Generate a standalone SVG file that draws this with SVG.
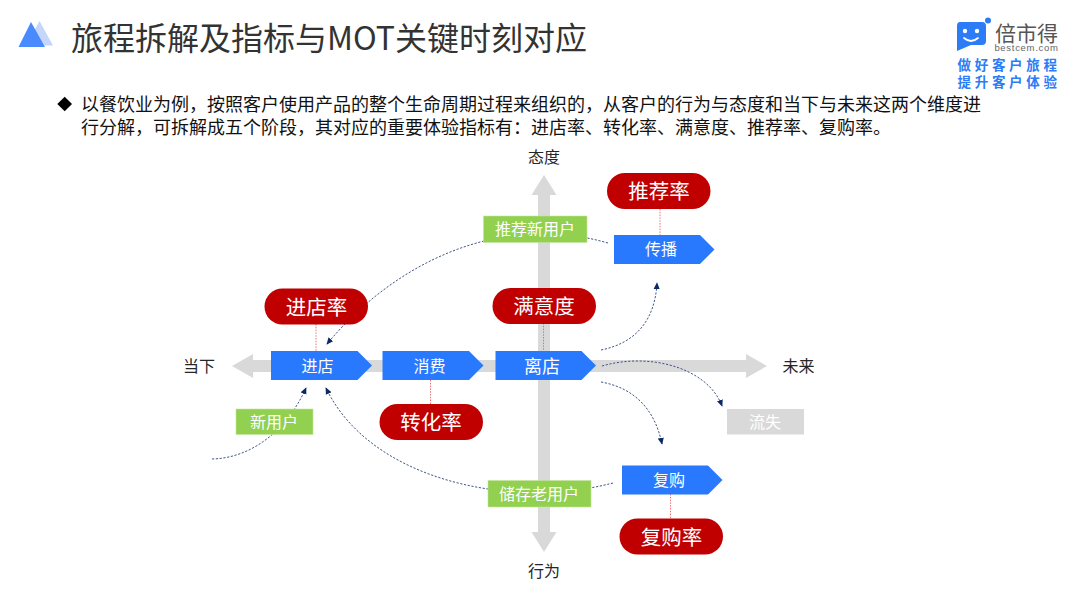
<svg xmlns="http://www.w3.org/2000/svg" width="1080" height="608" viewBox="0 0 1080 608">
<style>
text{font-family:"Noto Sans CJK SC","Noto Sans",sans-serif;text-anchor:middle;dominant-baseline:central}
.axis{fill:#d9d9d9}
.blue{fill:#2979ff}
.green{fill:#92d050;stroke:#c3e59c;stroke-width:.6}
.pill{fill:#c00000}
.lb{fill:#fff;font-size:16px}
.lr{fill:#fff;font-size:20.5px}
.ax{fill:#262626;font-size:16px}
.body{fill:#111;font-size:18px;text-anchor:start}
.slogan{fill:#2b7cf6;font-size:13.5px;font-weight:700;letter-spacing:3.7px;text-anchor:start}
.flow{fill:none;stroke:#2a4378;stroke-width:.9;stroke-dasharray:2.2 1.6;marker-end:url(#ah)}
.rel{stroke:#e8636b;stroke-width:.9;stroke-dasharray:1.5 1.3}
</style>
<defs>
<marker id="ah" viewBox="0 0 8 7" refX="7" refY="3.500" markerWidth="7" markerHeight="6.500" markerUnits="userSpaceOnUse" orient="auto"><path d="M0 0L8 3.500L0 7Z" fill="#0b2a63"/></marker>
</defs>
<rect width="1080" height="608" fill="#fff"/>

<g id="title-mark">
<path d="M39.500 21L53 45.500H26Z" fill="#c5d6fb"/>
<path d="M31 22L45 47H18.500Z" fill="#4a8aff"/>
</g>
<text id="title" x="71" y="35.500" style="font-size:32px;fill:#333;text-anchor:start">旅程拆解及指标与MOT关键时刻对应</text>

<g id="logo">
<path d="M960 22H982Q986 22 986 26V41Q986 45 982 45H971L957 51V26Q957 22 960 22Z" fill="#2b7cf6"/>
<circle cx="988" cy="20.500" r="3" fill="#2b7cf6"/>
<circle cx="965" cy="31" r="2.200" fill="#fff"/>
<circle cx="977" cy="31" r="2.200" fill="#fff"/>
<path d="M964 38Q971 44 978 38" fill="none" stroke="#fff" stroke-width="1.800" stroke-linecap="round"/>
<text x="1026.500" y="31.500" style="font-size:21px;fill:#555">倍市得</text>
<text x="1026.500" y="47" style="font-size:9.500px;fill:#666;letter-spacing:.7px;font-family:'Liberation Sans',sans-serif">bestcem.com</text>
<text class="slogan" x="957.500" y="64">做好客户旅程</text>
<text class="slogan" x="957.500" y="81">提升客户体验</text>
</g>

<g id="intro">
<path d="M64.700 96.700L72 104L64.700 111.300L57.300 104Z" fill="#000"/>
<text class="body" x="81" y="103">以餐饮业为例，按照客户使用产品的整个生命周期过程来组织的，从客户的行为与态度和当下与未来这两个维度进</text>
<text class="body" x="81" y="126">行分解，可拆解成五个阶段，其对应的重要体验指标有：进店率、转化率、满意度、推荐率、复购率。</text>
</g>

<g id="axes">
<path class="axis" d="M232 366L253 354V360H746V354L767 366L746 378V372H253V378Z"/>
<path class="axis" d="M544 175L556.500 195H550V532H556.500L544 552L531.500 532H538V195H531.500Z"/>
<text class="ax" x="544" y="156">态度</text>
<text class="ax" x="544" y="570">行为</text>
<text class="ax" x="199" y="364.500">当下</text>
<text class="ax" x="798.500" y="364.500">未来</text>
</g>

<g id="connectors">
<path class="flow" d="M608 243C500 212 395 262 327 344"/>
<path class="flow" d="M212 459C252 458 287 430 306 388"/>
<path class="flow" d="M613 483C510 510 370 480 326 388"/>
<path class="flow" d="M601 350C636 343 655 320 657 283"/>
<path class="flow" d="M602 366C650 352 708 368 722 406"/>
<path class="flow" d="M601 382C635 388 655 410 662 444"/>
<line class="rel" x1="660" y1="209" x2="660" y2="235"/>
<line class="rel" x1="316" y1="324" x2="316" y2="351"/>
<line class="rel" x1="543.500" y1="323" x2="543.500" y2="351"/>
<line class="rel" x1="430.500" y1="380" x2="430.500" y2="404"/>
<line class="rel" x1="670.500" y1="494" x2="670.500" y2="518"/>
</g>

<g id="node-jindian"><path class="blue" d="M271 351H357.500L372 365.500L357.500 380H271Z"/><text class="lb" x="317.500" y="364.500">进店</text></g>
<g id="node-xiaofei"><path class="blue" d="M382.500 351H469L483.500 365.500L469 380H382.500Z"/><text class="lb" x="429.500" y="364.500">消费</text></g>
<g id="node-lidian"><path class="blue" d="M495.500 351H581.500L596 365.500L581.500 380H495.500Z"/><text class="lb" x="542" y="364.500" style="font-size:18px">离店</text></g>
<g id="node-chuanbo"><path class="blue" d="M614 235H700L714.500 249.500L700 264H614Z"/><text class="lb" x="661" y="248">传播</text></g>
<g id="node-fugou"><path class="blue" d="M622 465.500H708L722.500 480L708 494.500H622Z"/><text class="lb" x="669" y="479">复购</text></g>

<g id="rate-tuijian"><rect class="pill" x="607" y="173" width="103.500" height="36" rx="18"/><text class="lr" x="659" y="189.500">推荐率</text></g>
<g id="rate-jindian"><rect class="pill" x="264.500" y="288.500" width="103.500" height="36" rx="18"/><text class="lr" x="316.500" y="305.500">进店率</text></g>
<g id="rate-manyi"><rect class="pill" x="492.500" y="288" width="103.500" height="36" rx="18"/><text class="lr" x="544" y="304.500">满意度</text></g>
<g id="rate-zhuanhua"><rect class="pill" x="379.500" y="404" width="103.500" height="36" rx="18"/><text class="lr" x="431" y="420.500">转化率</text></g>
<g id="rate-fugou"><rect class="pill" x="619.500" y="518.500" width="103.500" height="36" rx="18"/><text class="lr" x="671.500" y="535.500">复购率</text></g>

<g id="tag-tuijian"><rect class="green" x="483.500" y="216" width="103.500" height="26.500"/><text class="lb" x="535" y="228">推荐新用户</text></g>
<g id="tag-xin"><rect class="green" x="236" y="409" width="77" height="25.500"/><text class="lb" x="274" y="421">新用户</text></g>
<g id="tag-chucun"><rect class="green" x="488" y="480.500" width="103" height="26.500"/><text class="lb" x="539" y="493">储存老用户</text></g>
<g id="tag-liushi"><rect x="727" y="409" width="77" height="25.500" fill="#d9d9d9"/><text class="lb" x="765" y="421">流失</text></g>
</svg>
